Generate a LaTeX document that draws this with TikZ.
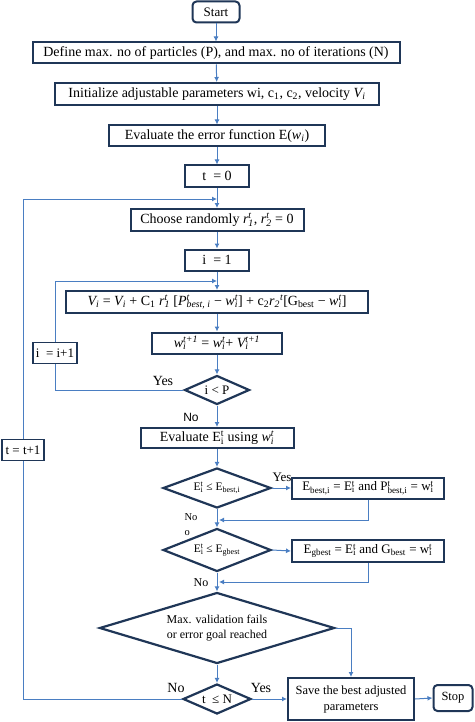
\documentclass[tikz,border=0pt]{standalone}
\usepackage{fontspec}
\setmainfont{Liberation Serif}
\newfontfamily\labelsans{Liberation Sans}
\usepackage{xcolor}
\usetikzlibrary{shapes.geometric, arrows.meta}
\definecolor{box-navy}{HTML}{1F3657}
\definecolor{flow-blue}{HTML}{4A7EC2}
\newsavebox{\supbox}
\newsavebox{\subbox}
\newcommand{\tsub}[2]{\sbox{\supbox}{\textsuperscript{#1}}\sbox{\subbox}{\textsubscript{#2}}%
  \ifdim\wd\supbox>\wd\subbox\rlap{\usebox{\subbox}}\usebox{\supbox}%
  \else\rlap{\usebox{\supbox}}\usebox{\subbox}\fi}

\begin{document}
\begin{tikzpicture}[x=1pt, y=-1pt,
        every node/.style={font=\fontsize{14}{16}\selectfont},
        proc/.style={draw=box-navy, line width=2pt, fill=white,
            inner sep=0pt, align=center},
        term/.style={proc, rounded corners=4pt},
        cond/.style={draw=box-navy, line width=2.2pt, fill=white,
            diamond, inner sep=0pt, align=center},
        flow/.style={draw=flow-blue, line width=1pt,
            -{Latex[length=5pt, width=5pt]}},
        link/.style={draw=flow-blue, line width=1pt}]
      \useasboundingbox (0,0) rectangle (474,722);
      % main column
      \node[term, minimum width=47, minimum height=21,
            font=\fontsize{13}{15}\selectfont] (start) at (216,12) {Start};
      \node[proc, minimum width=367, minimum height=21] (define) at (216,53)
            {Define max. no of particles (P), and max. no of iterations (N)};
      \node[proc, minimum width=324, minimum height=22] (init) at (217,94)
            {Initialize adjustable parameters wi, c\textsubscript{1}, c\textsubscript{2}, velocity \textit{V\textsubscript{i}}};
      \node[proc, minimum width=216, minimum height=21] (error) at (217,136)
            {Evaluate the error function E(\textit{w\textsubscript{i}})};
      \node[proc, minimum width=64, minimum height=21] (tzero) at (217,176) {t~ = 0};
      \node[proc, minimum width=173, minimum height=22] (rand) at (217,220)
            {Choose randomly \textit{r\tsub{t}{1}}, \textit{r\tsub{t}{2}} = 0};
      \node[proc, minimum width=64, minimum height=21] (ione) at (217,260) {i~ = 1};
      \node[proc, minimum width=302, minimum height=22] (veloc) at (217,302)
            {\textit{V\textsubscript{i}} = \textit{V\textsubscript{i}} + C\textsubscript{1} \textit{r\tsub{t}{1}} [\textit{P\tsub{t}{best, i}} − \textit{w\tsub{t}{i}}] + c\textsubscript{2}\textit{r\textsubscript{2}\textsuperscript{t}}[G\textsubscript{best} − \textit{w\tsub{t}{i}}]};
      \node[proc, minimum width=130, minimum height=21] (weight) at (217,343)
            {\textit{w\tsub{t+1}{i}} = \textit{w\tsub{t}{i}}+ \textit{V\tsub{t+1}{i}}};
      \node[cond, shape aspect=2.2, minimum width=65, minimum height=29,
            font=\fontsize{13}{15}\selectfont] (iless) at (217,390) {i < P};
      \node[proc, minimum width=153, minimum height=20] (evalE) at (217,438)
            {Evaluate E\tsub{t}{i} using \textit{w\tsub{t}{i}}};
      \node[cond, shape aspect=2.7, minimum width=108, minimum height=40,
            font=\fontsize{11.5}{13}\selectfont] (pbest) at (217,488)
            {E\tsub{t}{i} ≤ E\textsubscript{best,i}};
      \node[cond, shape aspect=2.5, minimum width=108, minimum height=43,
            font=\fontsize{11.5}{13}\selectfont] (gbest) at (217,550)
            {E\tsub{t}{i} ≤ E\textsubscript{gbest}};
      \node[cond, shape aspect=3.3, minimum width=235, minimum height=71,
            font=\fontsize{12}{15}\selectfont] (stopck) at (217,628)
            {Max. validation fails\\or error goal reached};
      \node[cond, shape aspect=2.3, minimum width=68, minimum height=30,
            font=\fontsize{13}{15}\selectfont] (tless) at (217,699) {t~ ≤ N};
      % side boxes
      \node[proc, minimum width=152, minimum height=21,
            font=\fontsize{13}{15}\selectfont] (setp) at (368,488)
            {E\textsubscript{best,i} = E\tsub{t}{i} and P\tsub{t}{best,i} = w\tsub{t}{i}};
      \node[proc, minimum width=152, minimum height=22,
            font=\fontsize{13}{15}\selectfont] (setg) at (368,551)
            {E\textsubscript{gbest} = E\tsub{t}{i} and G\textsubscript{best} = w\tsub{t}{i}};
      \node[proc, minimum width=126, minimum height=42,
            font=\fontsize{12.5}{16}\selectfont] (save) at (351,699)
            {Save the best adjusted\\parameters};
      \node[term, minimum width=39, minimum height=26,
            font=\fontsize{12.5}{15}\selectfont] (stop) at (453,698) {Stop};
      \node[proc, line width=1.6pt, minimum width=44, minimum height=21,
            font=\fontsize{13}{15}\selectfont] (iinc) at (55,353) {i~ = i+1};
      \node[proc, line width=1.6pt, minimum width=42, minimum height=21,
            font=\fontsize{13}{15}\selectfont] (tinc) at (23,450) {t = t+1};
      % junctions
      \coordinate (tjoin) at (217,199);
      \coordinate (ijoin) at (217,281);
      \coordinate (pjoin) at (219,520);
      \coordinate (gjoin) at (219,582);
      % labels
      \node (yes1) at (163,381) {Yes};
      \node[font=\labelsans\fontsize{12}{14}\selectfont] (no1) at (191,417) {No};
      \node[font=\fontsize{13}{15}\selectfont] (yes2) at (282,477) {Yes};
      \node[font=\fontsize{10.5}{15}\selectfont, align=left] (no2) at (191,525) {No\\o};
      \node[font=\fontsize{12}{14}\selectfont] (no3) at (201,583) {No};
      \node (no4) at (176,688) {No};
      \node (yes3) at (261,688) {Yes};
      % connectors
      \draw[flow] (start) -- (define);
      \draw[flow] (define) -- (init);
      \draw[flow] (init) -- (error);
      \draw[flow] (error) -- (tzero);
      \draw[flow] (tzero) -- (rand);
      \draw[flow] (rand) -- (ione);
      \draw[flow] (ione) -- (veloc);
      \draw[flow] (veloc) -- (weight);
      \draw[flow] (weight) -- (iless);
      \draw[link] (iless.west) -| (iinc.south);
      \draw[flow] (iinc.north) |- (ijoin);
      \draw[flow] (iless) -- (evalE);
      \draw[flow] (evalE) -- (pbest);
      \draw[flow] (pbest.east) -- (setp.west);
      \draw[flow] (setp.south) |- (pjoin);
      \draw[flow] (pbest) -- (gbest);
      \draw[flow] (gbest.east) -- (setg.west);
      \draw[flow] (setg.south) |- (gjoin);
      \draw[flow] (gbest) -- (stopck);
      \draw[flow] (stopck.east) -| (save.north);
      \draw[flow] (stopck) -- (tless);
      \draw[flow] (tless.east) -- (save.west);
      \draw[flow] (save.east) -- (stop.west);
      \draw[link] (tless.west) -| (tinc.south);
      \draw[flow] (tinc.north) |- (tjoin);
    \end{tikzpicture}
\end{document}
